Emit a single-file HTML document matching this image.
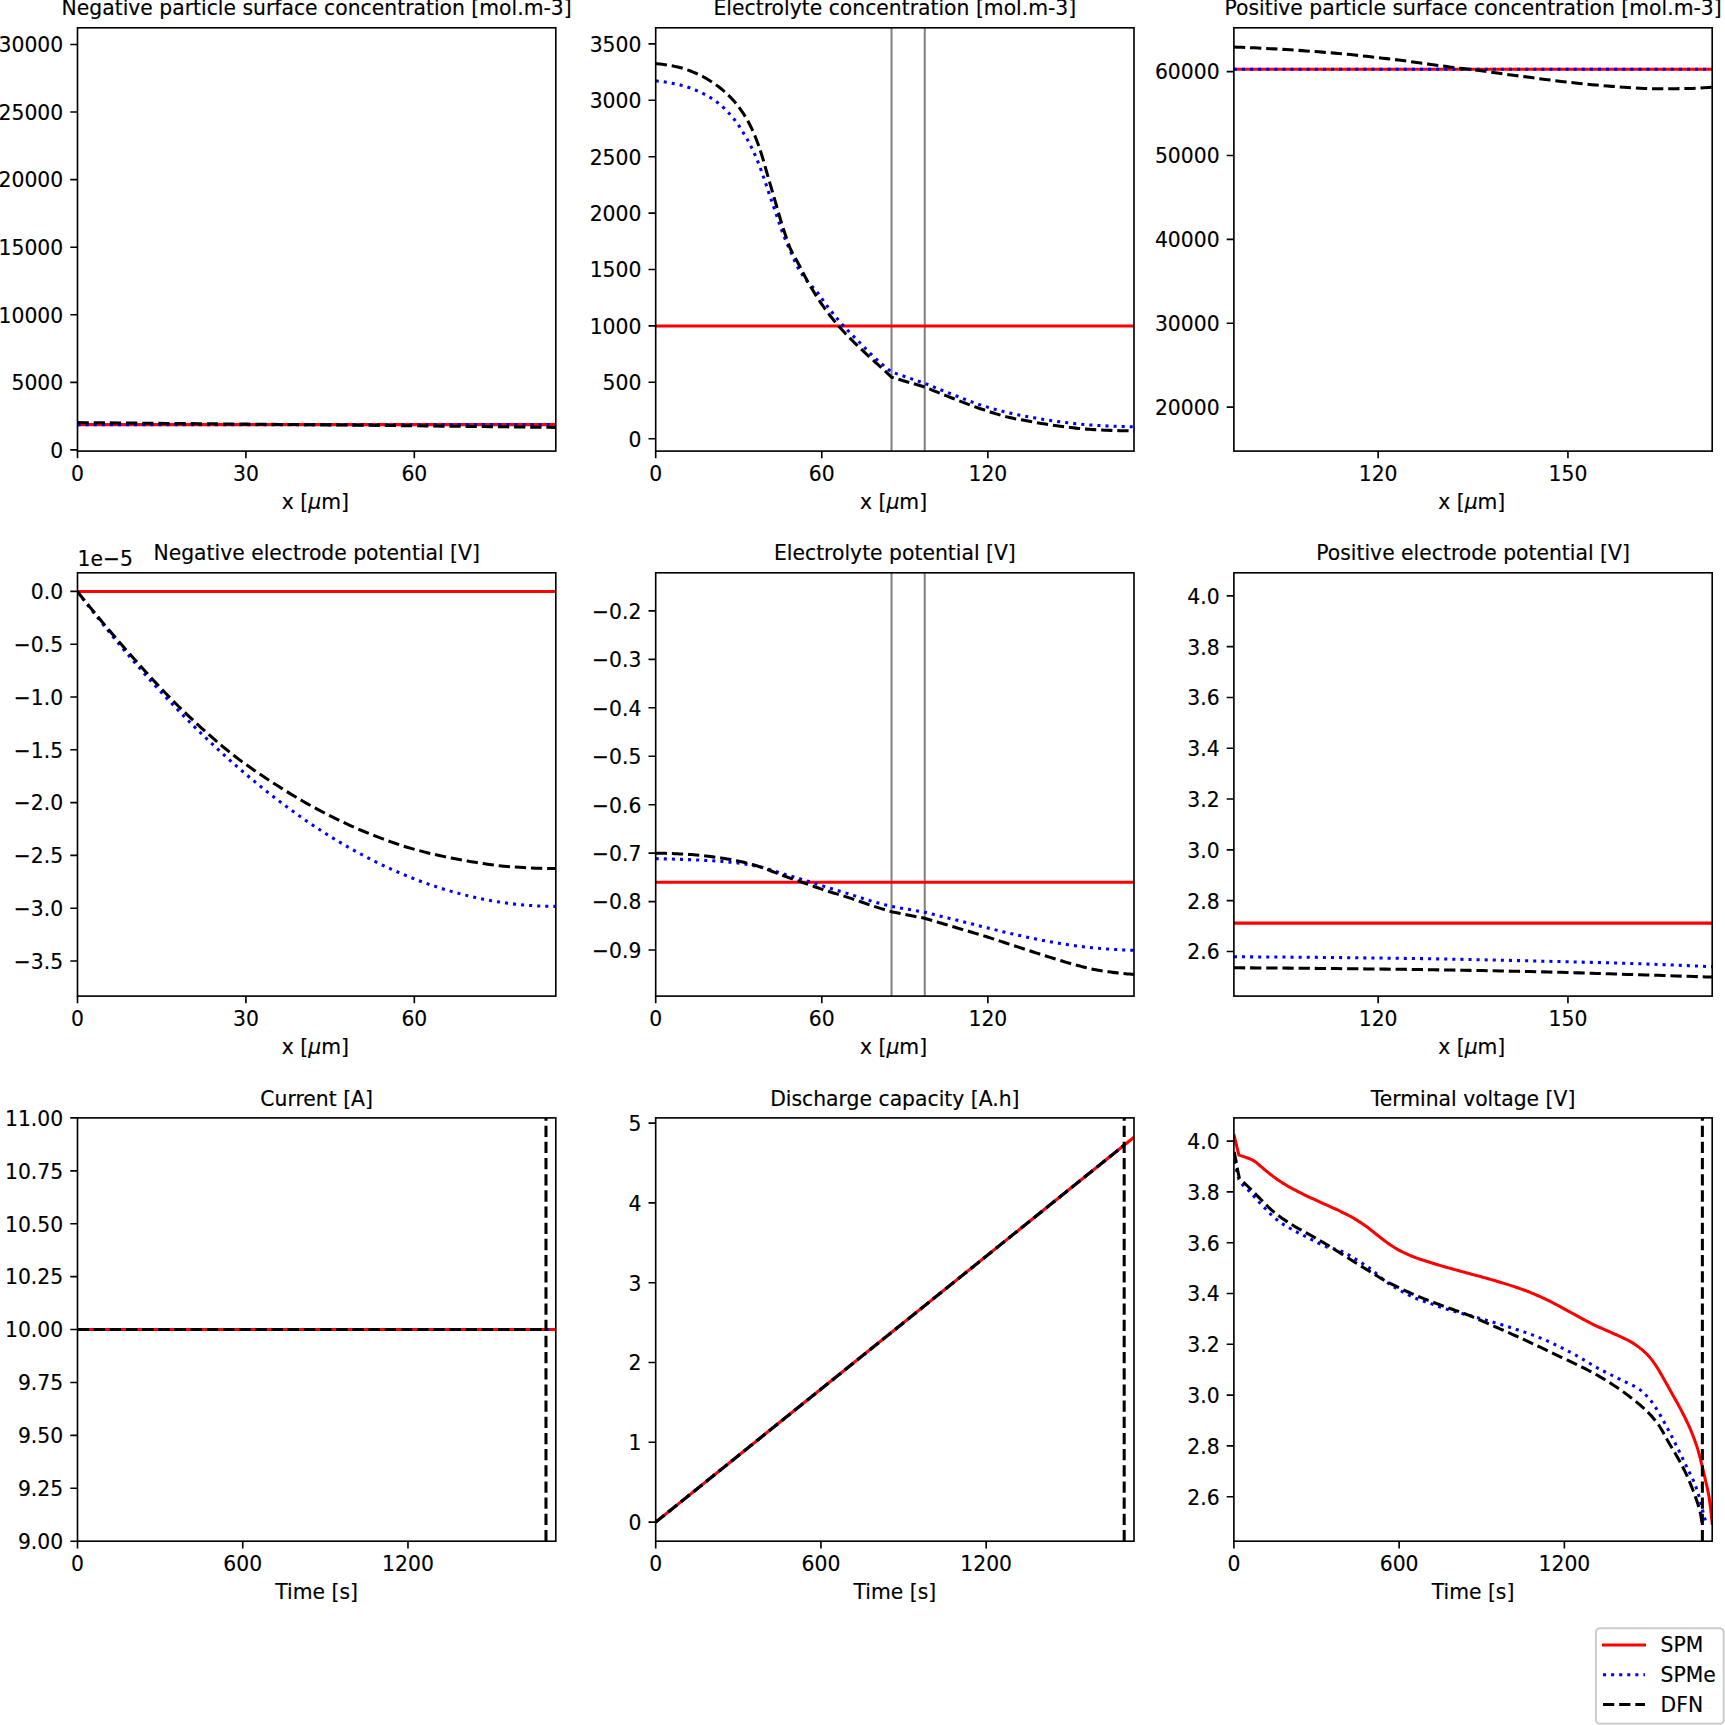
<!DOCTYPE html>
<html lang="en">
<head>
<meta charset="utf-8">
<title>Model comparison: SPM, SPMe, DFN</title>
<style>
html,body{margin:0;padding:0;background:#fff;}
body{width:1725px;height:1725px;overflow:hidden;}
svg{display:block;}
text{white-space:pre;stroke:#000;stroke-width:0.15px;}
</style>
</head>
<body>
<svg width="1725" height="1725" viewBox="0 0 1725 1725" font-family="'DejaVu Sans', 'Liberation Sans', sans-serif" fill="#000">
<rect width="1725" height="1725" fill="#fff"/>
<defs>
<clipPath id="c00"><rect x="77.5" y="27.8" width="478.3" height="423.3"/></clipPath>
<clipPath id="c01"><rect x="655.7" y="27.8" width="478.3" height="423.3"/></clipPath>
<clipPath id="c02"><rect x="1233.9" y="27.8" width="478.3" height="423.3"/></clipPath>
<clipPath id="c10"><rect x="77.5" y="572.8" width="478.3" height="423.3"/></clipPath>
<clipPath id="c11"><rect x="655.7" y="572.8" width="478.3" height="423.3"/></clipPath>
<clipPath id="c12"><rect x="1233.9" y="572.8" width="478.3" height="423.3"/></clipPath>
<clipPath id="c20"><rect x="77.5" y="1117.9" width="478.3" height="423.3"/></clipPath>
<clipPath id="c21"><rect x="655.7" y="1117.9" width="478.3" height="423.3"/></clipPath>
<clipPath id="c22"><rect x="1233.9" y="1117.9" width="478.3" height="423.3"/></clipPath>
</defs>
<g id="ax00">
<path d="M77.5 424.6 L555.8 424.6" fill="none" stroke="#ff0000" stroke-width="3.05" stroke-linejoin="round" stroke-linecap="square" clip-path="url(#c00)"/>
<path d="M77.5 424.6 L555.8 424.6" fill="none" stroke="#0000ff" stroke-width="3.05" stroke-linejoin="round" stroke-linecap="butt" stroke-dasharray="3.05 5.04" clip-path="url(#c00)"/>
<path d="M77.5 422.6 L85.61 422.67 L93.71 422.74 L101.82 422.82 L109.93 422.89 L118.03 422.96 L126.14 423.03 L134.25 423.11 L142.35 423.18 L150.46 423.25 L158.57 423.32 L166.67 423.4 L174.78 423.47 L182.89 423.54 L190.99 423.62 L199.1 423.69 L207.21 423.77 L215.32 423.84 L223.42 423.91 L231.53 423.98 L239.64 424.06 L247.74 424.13 L255.85 424.2 L263.96 424.28 L272.06 424.35 L280.17 424.42 L288.28 424.5 L296.38 424.58 L304.49 424.65 L312.6 424.73 L320.7 424.81 L328.81 424.89 L336.92 424.97 L345.02 425.05 L353.13 425.14 L361.24 425.22 L369.34 425.31 L377.45 425.4 L385.56 425.48 L393.66 425.57 L401.77 425.66 L409.88 425.75 L417.98 425.84 L426.09 425.93 L434.2 426.02 L442.31 426.11 L450.41 426.2 L458.52 426.29 L466.63 426.39 L474.73 426.48 L482.84 426.57 L490.95 426.66 L499.05 426.75 L507.16 426.84 L515.27 426.93 L523.37 427.03 L531.48 427.12 L539.59 427.21 L547.69 427.31 L555.8 427.4" fill="none" stroke="#000000" stroke-width="3.05" stroke-linejoin="round" stroke-linecap="butt" stroke-dasharray="11.29 4.88" clip-path="url(#c00)"/>
<path d="M77.5 451.1v7.2M245.92 451.1v7.2M414.33 451.1v7.2M77.5 449.9h-7.2M77.5 382.33h-7.2M77.5 314.76h-7.2M77.5 247.19h-7.2M77.5 179.62h-7.2M77.5 112.05h-7.2M77.5 44.48h-7.2" stroke="#000" stroke-width="1.63" fill="none"/>
<rect x="77.5" y="27.8" width="478.3" height="423.3" fill="none" stroke="#000" stroke-width="1.63" stroke-linejoin="miter"/>
<text transform="translate(77.5,480.7) scale(1.0175,1.045)" text-anchor="middle" font-size="20">0</text>
<text transform="translate(245.92,480.7) scale(1.0175,1.045)" text-anchor="middle" font-size="20">30</text>
<text transform="translate(414.33,480.7) scale(1.0175,1.045)" text-anchor="middle" font-size="20">60</text>
<text transform="translate(63.2,457.75) scale(1.0175,1.045)" text-anchor="end" font-size="20">0</text>
<text transform="translate(63.2,390.18) scale(1.0175,1.045)" text-anchor="end" font-size="20">5000</text>
<text transform="translate(63.2,322.61) scale(1.0175,1.045)" text-anchor="end" font-size="20">10000</text>
<text transform="translate(63.2,255.04) scale(1.0175,1.045)" text-anchor="end" font-size="20">15000</text>
<text transform="translate(63.2,187.47) scale(1.0175,1.045)" text-anchor="end" font-size="20">20000</text>
<text transform="translate(63.2,119.9) scale(1.0175,1.045)" text-anchor="end" font-size="20">25000</text>
<text transform="translate(63.2,52.33) scale(1.0175,1.045)" text-anchor="end" font-size="20">30000</text>
<text transform="translate(315.35,508.9) scale(1.0175,1.045)" text-anchor="middle" font-size="20">x [<tspan font-style="italic">μ</tspan>m]</text>
<text transform="translate(316.65,15.4) scale(1.0175,1.045)" text-anchor="middle" font-size="20">Negative particle surface concentration [mol.m-3]</text>
</g>
<g id="ax01">
<path d="M891.53 27.8 L891.53 451.1" fill="none" stroke="#808080" stroke-width="2" stroke-linejoin="round" stroke-linecap="butt"/>
<path d="M924.74 27.8 L924.74 451.1" fill="none" stroke="#808080" stroke-width="2" stroke-linejoin="round" stroke-linecap="butt"/>
<path d="M655.7 325.9 L1134 325.9" fill="none" stroke="#ff0000" stroke-width="3.05" stroke-linejoin="round" stroke-linecap="square" clip-path="url(#c01)"/>
<path d="M655.7 81 L657.28 81.1 L658.87 81.22 L660.45 81.38 L662.03 81.56 L663.61 81.76 L665.2 81.99 L666.78 82.24 L668.36 82.51 L669.94 82.8 L671.53 83.11 L673.11 83.43 L674.69 83.76 L676.28 84.1 L677.86 84.45 L679.44 84.81 L681.02 85.18 L682.61 85.57 L684.19 86.01 L685.77 86.48 L687.35 87 L688.94 87.54 L690.52 88.12 L692.1 88.73 L693.69 89.37 L695.27 90.03 L696.85 90.71 L698.43 91.42 L700.02 92.15 L701.6 92.89 L703.18 93.64 L704.76 94.43 L706.35 95.26 L707.93 96.14 L709.51 97.07 L711.1 98.05 L712.68 99.08 L714.26 100.16 L715.84 101.28 L717.43 102.46 L719.01 103.68 L720.59 104.98 L722.18 106.37 L723.76 107.83 L725.34 109.37 L726.92 110.99 L728.51 112.67 L730.09 114.43 L731.67 116.25 L733.25 118.12 L734.84 120.1 L736.42 122.2 L738 124.43 L739.59 126.77 L741.17 129.21 L742.75 131.74 L744.33 134.34 L745.92 137.01 L747.5 139.79 L749.08 142.69 L750.66 145.74 L752.25 148.92 L753.83 152.25 L755.41 155.75 L757 159.51 L758.58 163.49 L760.16 167.63 L761.74 171.93 L763.33 176.46 L764.91 181.13 L766.49 185.85 L768.07 190.53 L769.66 195.15 L771.24 199.78 L772.82 204.42 L774.41 209.03 L775.99 213.63 L777.57 218.29 L779.15 222.98 L780.74 227.58 L782.32 231.98 L783.9 236.08 L785.48 239.94 L787.07 243.62 L788.65 247.21 L790.23 250.75 L791.82 254.35 L793.4 258.01 L794.98 261.61 L796.56 265 L798.15 268.03 L799.73 270.71 L801.31 273.19 L802.89 275.52 L804.48 277.7 L806.06 279.76 L807.64 281.73 L809.23 283.55 L810.81 285.19 L812.39 286.78 L813.97 288.42 L815.56 290.22 L817.14 292.18 L818.72 294.25 L820.31 296.41 L821.89 298.62 L823.47 300.86 L825.05 303.1 L826.64 305.32 L828.22 307.48 L829.8 309.56 L831.38 311.56 L832.97 313.53 L834.55 315.46 L836.13 317.37 L837.72 319.25 L839.3 321.09 L840.88 322.9 L842.46 324.68 L844.05 326.43 L845.63 328.14 L847.21 329.82 L848.79 331.48 L850.38 333.12 L851.96 334.74 L853.54 336.36 L855.13 337.96 L856.71 339.57 L858.29 341.18 L859.87 342.8 L861.46 344.42 L863.04 346.05 L864.62 347.68 L866.2 349.3 L867.79 350.91 L869.37 352.5 L870.95 354.07 L872.54 355.61 L874.12 357.12 L875.7 358.58 L877.28 360.02 L878.87 361.44 L880.45 362.84 L882.03 364.22 L883.61 365.57 L885.2 366.91 L886.78 368.21 L888.36 369.5 L889.95 370.76 L891.53 372 L891.53 372 L924.74 383.3 L927.39 384.39 L930.04 385.48 L932.69 386.56 L935.34 387.63 L937.99 388.7 L940.64 389.76 L943.29 390.81 L945.93 391.86 L948.58 392.9 L951.23 393.93 L953.88 394.97 L956.53 396.01 L959.18 397.06 L961.83 398.11 L964.48 399.14 L967.12 400.17 L969.77 401.18 L972.42 402.16 L975.07 403.11 L977.72 404.02 L980.37 404.9 L983.02 405.74 L985.67 406.56 L988.32 407.36 L990.96 408.14 L993.61 408.91 L996.26 409.65 L998.91 410.37 L1001.56 411.07 L1004.21 411.74 L1006.86 412.39 L1009.51 413.02 L1012.15 413.61 L1014.8 414.18 L1017.45 414.73 L1020.1 415.26 L1022.75 415.76 L1025.4 416.26 L1028.05 416.73 L1030.7 417.2 L1033.35 417.65 L1035.99 418.1 L1038.64 418.55 L1041.29 418.99 L1043.94 419.43 L1046.59 419.86 L1049.24 420.28 L1051.89 420.69 L1054.54 421.09 L1057.18 421.47 L1059.83 421.83 L1062.48 422.17 L1065.13 422.49 L1067.78 422.79 L1070.43 423.08 L1073.08 423.37 L1075.73 423.65 L1078.37 423.92 L1081.02 424.18 L1083.67 424.43 L1086.32 424.66 L1088.97 424.88 L1091.62 425.08 L1094.27 425.26 L1096.92 425.42 L1099.57 425.57 L1102.21 425.7 L1104.86 425.84 L1107.51 425.97 L1110.16 426.09 L1112.81 426.21 L1115.46 426.32 L1118.11 426.42 L1120.76 426.51 L1123.4 426.6 L1126.05 426.67 L1128.7 426.73 L1131.35 426.77 L1134 426.8" fill="none" stroke="#0000ff" stroke-width="3.05" stroke-linejoin="round" stroke-linecap="butt" stroke-dasharray="3.05 5.04" clip-path="url(#c01)"/>
<path d="M655.7 63.7 L657.28 63.78 L658.87 63.9 L660.45 64.05 L662.03 64.22 L663.61 64.43 L665.2 64.65 L666.78 64.9 L668.36 65.16 L669.94 65.44 L671.53 65.74 L673.11 66.05 L674.69 66.37 L676.28 66.7 L677.86 67.03 L679.44 67.4 L681.02 67.81 L682.61 68.26 L684.19 68.74 L685.77 69.27 L687.35 69.83 L688.94 70.42 L690.52 71.03 L692.1 71.67 L693.69 72.34 L695.27 73.02 L696.85 73.73 L698.43 74.44 L700.02 75.17 L701.6 75.92 L703.18 76.73 L704.76 77.59 L706.35 78.49 L707.93 79.44 L709.51 80.43 L711.1 81.46 L712.68 82.51 L714.26 83.6 L715.84 84.72 L717.43 85.87 L719.01 87.07 L720.59 88.31 L722.18 89.61 L723.76 90.95 L725.34 92.35 L726.92 93.81 L728.51 95.32 L730.09 96.88 L731.67 98.52 L733.25 100.25 L734.84 102.07 L736.42 103.98 L738 105.98 L739.59 108.08 L741.17 110.28 L742.75 112.57 L744.33 115 L745.92 117.58 L747.5 120.34 L749.08 123.27 L750.66 126.38 L752.25 129.7 L753.83 133.29 L755.41 137.16 L757 141.27 L758.58 145.6 L760.16 150.12 L761.74 154.91 L763.33 160.18 L764.91 165.73 L766.49 171.38 L768.07 176.91 L769.66 182.34 L771.24 187.78 L772.82 193.21 L774.41 198.63 L775.99 204.02 L777.57 209.49 L779.15 214.97 L780.74 220.36 L782.32 225.54 L783.9 230.46 L785.48 235.3 L787.07 239.99 L788.65 244.38 L790.23 248.34 L791.82 251.73 L793.4 254.69 L794.98 257.44 L796.56 260.21 L798.15 263.19 L799.73 266.26 L801.31 269.37 L802.89 272.48 L804.48 275.55 L806.06 278.54 L807.64 281.4 L809.23 284.16 L810.81 286.87 L812.39 289.53 L813.97 292.15 L815.56 294.71 L817.14 297.22 L818.72 299.67 L820.31 302.06 L821.89 304.39 L823.47 306.65 L825.05 308.86 L826.64 311.02 L828.22 313.14 L829.8 315.21 L831.38 317.24 L832.97 319.23 L834.55 321.18 L836.13 323.09 L837.72 324.96 L839.3 326.8 L840.88 328.59 L842.46 330.34 L844.05 332.05 L845.63 333.72 L847.21 335.37 L848.79 336.98 L850.38 338.58 L851.96 340.17 L853.54 341.75 L855.13 343.32 L856.71 344.87 L858.29 346.4 L859.87 347.91 L861.46 349.41 L863.04 350.9 L864.62 352.38 L866.2 353.85 L867.79 355.31 L869.37 356.78 L870.95 358.24 L872.54 359.68 L874.12 361.11 L875.7 362.53 L877.28 363.94 L878.87 365.36 L880.45 366.79 L882.03 368.23 L883.61 369.68 L885.2 371.15 L886.78 372.64 L888.36 374.15 L889.95 375.67 L891.53 377.2 L891.53 377.2 L924.74 387 L927.39 388.11 L930.04 389.21 L932.69 390.3 L935.34 391.38 L937.99 392.46 L940.64 393.53 L943.29 394.59 L945.93 395.65 L948.58 396.69 L951.23 397.73 L953.88 398.77 L956.53 399.81 L959.18 400.84 L961.83 401.88 L964.48 402.9 L967.12 403.92 L969.77 404.91 L972.42 405.89 L975.07 406.85 L977.72 407.79 L980.37 408.69 L983.02 409.57 L985.67 410.45 L988.32 411.32 L990.96 412.18 L993.61 413.03 L996.26 413.86 L998.91 414.66 L1001.56 415.43 L1004.21 416.16 L1006.86 416.86 L1009.51 417.51 L1012.15 418.11 L1014.8 418.66 L1017.45 419.17 L1020.1 419.65 L1022.75 420.11 L1025.4 420.58 L1028.05 421.05 L1030.7 421.52 L1033.35 421.99 L1035.99 422.46 L1038.64 422.93 L1041.29 423.39 L1043.94 423.84 L1046.59 424.28 L1049.24 424.7 L1051.89 425.1 L1054.54 425.49 L1057.18 425.85 L1059.83 426.2 L1062.48 426.54 L1065.13 426.87 L1067.78 427.2 L1070.43 427.52 L1073.08 427.83 L1075.73 428.13 L1078.37 428.41 L1081.02 428.67 L1083.67 428.91 L1086.32 429.12 L1088.97 429.31 L1091.62 429.47 L1094.27 429.62 L1096.92 429.77 L1099.57 429.9 L1102.21 430.03 L1104.86 430.15 L1107.51 430.26 L1110.16 430.36 L1112.81 430.45 L1115.46 430.54 L1118.11 430.61 L1120.76 430.68 L1123.4 430.74 L1126.05 430.79 L1128.7 430.83 L1131.35 430.87 L1134 430.9" fill="none" stroke="#000000" stroke-width="3.05" stroke-linejoin="round" stroke-linecap="butt" stroke-dasharray="11.29 4.88" clip-path="url(#c01)"/>
<path d="M655.7 451.1v7.2M821.78 451.1v7.2M987.85 451.1v7.2M655.7 438.7h-7.2M655.7 382.3h-7.2M655.7 325.9h-7.2M655.7 269.5h-7.2M655.7 213.1h-7.2M655.7 156.7h-7.2M655.7 100.3h-7.2M655.7 43.9h-7.2" stroke="#000" stroke-width="1.63" fill="none"/>
<rect x="655.7" y="27.8" width="478.3" height="423.3" fill="none" stroke="#000" stroke-width="1.63" stroke-linejoin="miter"/>
<text transform="translate(655.7,480.7) scale(1.0175,1.045)" text-anchor="middle" font-size="20">0</text>
<text transform="translate(821.78,480.7) scale(1.0175,1.045)" text-anchor="middle" font-size="20">60</text>
<text transform="translate(987.85,480.7) scale(1.0175,1.045)" text-anchor="middle" font-size="20">120</text>
<text transform="translate(641.4,446.55) scale(1.0175,1.045)" text-anchor="end" font-size="20">0</text>
<text transform="translate(641.4,390.15) scale(1.0175,1.045)" text-anchor="end" font-size="20">500</text>
<text transform="translate(641.4,333.75) scale(1.0175,1.045)" text-anchor="end" font-size="20">1000</text>
<text transform="translate(641.4,277.35) scale(1.0175,1.045)" text-anchor="end" font-size="20">1500</text>
<text transform="translate(641.4,220.95) scale(1.0175,1.045)" text-anchor="end" font-size="20">2000</text>
<text transform="translate(641.4,164.55) scale(1.0175,1.045)" text-anchor="end" font-size="20">2500</text>
<text transform="translate(641.4,108.15) scale(1.0175,1.045)" text-anchor="end" font-size="20">3000</text>
<text transform="translate(641.4,51.75) scale(1.0175,1.045)" text-anchor="end" font-size="20">3500</text>
<text transform="translate(893.55,508.9) scale(1.0175,1.045)" text-anchor="middle" font-size="20">x [<tspan font-style="italic">μ</tspan>m]</text>
<text transform="translate(894.85,15.4) scale(1.0175,1.045)" text-anchor="middle" font-size="20">Electrolyte concentration [mol.m-3]</text>
</g>
<g id="ax02">
<path d="M1233.9 69.3 L1712.2 69.3" fill="none" stroke="#ff0000" stroke-width="3.05" stroke-linejoin="round" stroke-linecap="square" clip-path="url(#c02)"/>
<path d="M1233.9 69.3 L1712.2 69.3" fill="none" stroke="#0000ff" stroke-width="3.05" stroke-linejoin="round" stroke-linecap="butt" stroke-dasharray="3.05 5.04" clip-path="url(#c02)"/>
<path d="M1233.9 47 L1237.92 47.15 L1241.94 47.32 L1245.96 47.49 L1249.98 47.67 L1254 47.85 L1258.02 48.05 L1262.04 48.25 L1266.05 48.46 L1270.07 48.67 L1274.09 48.89 L1278.11 49.12 L1282.13 49.35 L1286.15 49.59 L1290.17 49.84 L1294.19 50.09 L1298.21 50.36 L1302.23 50.63 L1306.25 50.92 L1310.27 51.21 L1314.29 51.51 L1318.31 51.82 L1322.33 52.13 L1326.34 52.46 L1330.36 52.79 L1334.38 53.13 L1338.4 53.48 L1342.42 53.84 L1346.44 54.21 L1350.46 54.6 L1354.48 55 L1358.5 55.42 L1362.52 55.85 L1366.54 56.29 L1370.56 56.74 L1374.58 57.2 L1378.6 57.67 L1382.62 58.14 L1386.63 58.62 L1390.65 59.1 L1394.67 59.59 L1398.69 60.07 L1402.71 60.57 L1406.73 61.09 L1410.75 61.62 L1414.77 62.16 L1418.79 62.71 L1422.81 63.27 L1426.83 63.83 L1430.85 64.4 L1434.87 64.96 L1438.89 65.52 L1442.91 66.07 L1446.92 66.61 L1450.94 67.14 L1454.96 67.66 L1458.98 68.15 L1463 68.62 L1467.02 69.08 L1471.04 69.56 L1475.06 70.06 L1479.08 70.58 L1483.1 71.11 L1487.12 71.65 L1491.14 72.19 L1495.16 72.74 L1499.18 73.29 L1503.19 73.84 L1507.21 74.38 L1511.23 74.92 L1515.25 75.45 L1519.27 75.97 L1523.29 76.5 L1527.31 77.04 L1531.33 77.57 L1535.35 78.11 L1539.37 78.64 L1543.39 79.17 L1547.41 79.69 L1551.43 80.2 L1555.45 80.7 L1559.47 81.19 L1563.48 81.66 L1567.5 82.12 L1571.52 82.56 L1575.54 82.99 L1579.56 83.41 L1583.58 83.83 L1587.6 84.24 L1591.62 84.65 L1595.64 85.03 L1599.66 85.4 L1603.68 85.76 L1607.7 86.09 L1611.72 86.39 L1615.74 86.66 L1619.76 86.92 L1623.77 87.19 L1627.79 87.46 L1631.81 87.72 L1635.83 87.97 L1639.85 88.19 L1643.87 88.4 L1647.89 88.56 L1651.91 88.69 L1655.93 88.77 L1659.95 88.8 L1663.97 88.79 L1667.99 88.77 L1672.01 88.74 L1676.03 88.69 L1680.05 88.64 L1684.06 88.58 L1688.08 88.51 L1692.1 88.42 L1696.12 88.27 L1700.14 88.07 L1704.16 87.84 L1708.18 87.58 L1712.2 87.3" fill="none" stroke="#000000" stroke-width="3.05" stroke-linejoin="round" stroke-linecap="butt" stroke-dasharray="11.29 4.88" clip-path="url(#c02)"/>
<path d="M1378.15 451.1v7.2M1567.95 451.1v7.2M1233.9 407.1h-7.2M1233.9 323.23h-7.2M1233.9 239.36h-7.2M1233.9 155.49h-7.2M1233.9 71.62h-7.2" stroke="#000" stroke-width="1.63" fill="none"/>
<rect x="1233.9" y="27.8" width="478.3" height="423.3" fill="none" stroke="#000" stroke-width="1.63" stroke-linejoin="miter"/>
<text transform="translate(1378.15,480.7) scale(1.0175,1.045)" text-anchor="middle" font-size="20">120</text>
<text transform="translate(1567.95,480.7) scale(1.0175,1.045)" text-anchor="middle" font-size="20">150</text>
<text transform="translate(1219.6,414.95) scale(1.0175,1.045)" text-anchor="end" font-size="20">20000</text>
<text transform="translate(1219.6,331.08) scale(1.0175,1.045)" text-anchor="end" font-size="20">30000</text>
<text transform="translate(1219.6,247.21) scale(1.0175,1.045)" text-anchor="end" font-size="20">40000</text>
<text transform="translate(1219.6,163.34) scale(1.0175,1.045)" text-anchor="end" font-size="20">50000</text>
<text transform="translate(1219.6,79.47) scale(1.0175,1.045)" text-anchor="end" font-size="20">60000</text>
<text transform="translate(1471.75,508.9) scale(1.0175,1.045)" text-anchor="middle" font-size="20">x [<tspan font-style="italic">μ</tspan>m]</text>
<text transform="translate(1473.05,15.4) scale(1.0175,1.045)" text-anchor="middle" font-size="20">Positive particle surface concentration [mol.m-3]</text>
</g>
<g id="ax10">
<path d="M77.5 591.4 L555.8 591.4" fill="none" stroke="#ff0000" stroke-width="3.05" stroke-linejoin="round" stroke-linecap="square" clip-path="url(#c10)"/>
<path d="M77.5 591.7 L81.52 596.97 L85.54 602.19 L89.56 607.37 L93.58 612.5 L97.6 617.59 L101.62 622.63 L105.64 627.63 L109.65 632.59 L113.67 637.5 L117.69 642.37 L121.71 647.19 L125.73 651.97 L129.75 656.7 L133.77 661.39 L137.79 666.04 L141.81 670.64 L145.83 675.19 L149.85 679.7 L153.87 684.17 L157.89 688.59 L161.91 692.97 L165.93 697.3 L169.94 701.59 L173.96 705.84 L177.98 710.04 L182 714.19 L186.02 718.3 L190.04 722.37 L194.06 726.39 L198.08 730.37 L202.1 734.31 L206.12 738.19 L210.14 742.04 L214.16 745.84 L218.18 749.59 L222.2 753.31 L226.22 756.97 L230.23 760.59 L234.25 764.17 L238.27 767.71 L242.29 771.2 L246.31 774.64 L250.33 778.04 L254.35 781.4 L258.37 784.71 L262.39 787.97 L266.41 791.2 L270.43 794.37 L274.45 797.51 L278.47 800.6 L282.49 803.64 L286.51 806.64 L290.52 809.6 L294.54 812.51 L298.56 815.37 L302.58 818.2 L306.6 820.97 L310.62 823.71 L314.64 826.4 L318.66 829.04 L322.68 831.64 L326.7 834.2 L330.72 836.71 L334.74 839.18 L338.76 841.6 L342.78 843.98 L346.79 846.31 L350.81 848.6 L354.83 850.84 L358.85 853.04 L362.87 855.2 L366.89 857.31 L370.91 859.38 L374.93 861.4 L378.95 863.38 L382.97 865.31 L386.99 867.2 L391.01 869.04 L395.03 870.84 L399.05 872.6 L403.07 874.31 L407.08 875.98 L411.1 877.6 L415.12 879.18 L419.14 880.71 L423.16 882.2 L427.18 883.64 L431.2 885.04 L435.22 886.4 L439.24 887.71 L443.26 888.98 L447.28 890.2 L451.3 891.38 L455.32 892.51 L459.34 893.6 L463.36 894.64 L467.37 895.64 L471.39 896.6 L475.41 897.51 L479.43 898.38 L483.45 899.2 L487.47 899.98 L491.49 900.71 L495.51 901.4 L499.53 902.04 L503.55 902.64 L507.57 903.2 L511.59 903.71 L515.61 904.18 L519.63 904.6 L523.65 904.98 L527.66 905.31 L531.68 905.6 L535.7 905.84 L539.72 906.04 L543.74 906.2 L547.76 906.31 L551.78 906.38 L555.8 906.4" fill="none" stroke="#0000ff" stroke-width="3.05" stroke-linejoin="round" stroke-linecap="butt" stroke-dasharray="3.05 5.04" clip-path="url(#c10)"/>
<path d="M77.5 591.7 L81.52 596.72 L85.54 601.71 L89.56 606.66 L93.58 611.57 L97.6 616.44 L101.62 621.27 L105.64 626.07 L109.65 630.82 L113.67 635.53 L117.69 640.21 L121.71 644.84 L125.73 649.42 L129.75 653.97 L133.77 658.49 L137.79 662.99 L141.81 667.47 L145.83 671.92 L149.85 676.34 L153.87 680.71 L157.89 685.04 L161.91 689.32 L165.93 693.53 L169.94 697.69 L173.96 701.77 L177.98 705.77 L182 709.69 L186.02 713.55 L190.04 717.37 L194.06 721.14 L198.08 724.87 L202.1 728.54 L206.12 732.16 L210.14 735.72 L214.16 739.22 L218.18 742.67 L222.2 746.05 L226.22 749.36 L230.23 752.6 L234.25 755.78 L238.27 758.86 L242.29 761.85 L246.31 764.77 L250.33 767.6 L254.35 770.38 L258.37 773.11 L262.39 775.79 L266.41 778.46 L270.43 781.1 L274.45 783.72 L278.47 786.3 L282.49 788.86 L286.51 791.38 L290.52 793.85 L294.54 796.29 L298.56 798.68 L302.58 801.02 L306.6 803.31 L310.62 805.54 L314.64 807.72 L318.66 809.87 L322.68 811.99 L326.7 814.08 L330.72 816.13 L334.74 818.15 L338.76 820.13 L342.78 822.07 L346.79 823.96 L350.81 825.8 L354.83 827.59 L358.85 829.33 L362.87 831.02 L366.89 832.65 L370.91 834.26 L374.93 835.85 L378.95 837.41 L382.97 838.93 L386.99 840.42 L391.01 841.87 L395.03 843.28 L399.05 844.64 L403.07 845.95 L407.08 847.2 L411.1 848.4 L415.12 849.53 L419.14 850.6 L423.16 851.64 L427.18 852.65 L431.2 853.63 L435.22 854.58 L439.24 855.5 L443.26 856.38 L447.28 857.23 L451.3 858.05 L455.32 858.84 L459.34 859.59 L463.36 860.3 L467.37 860.98 L471.39 861.64 L475.41 862.29 L479.43 862.94 L483.45 863.57 L487.47 864.17 L491.49 864.75 L495.51 865.29 L499.53 865.77 L503.55 866.2 L507.57 866.57 L511.59 866.86 L515.61 867.1 L519.63 867.34 L523.65 867.56 L527.66 867.78 L531.68 867.97 L535.7 868.15 L539.72 868.3 L543.74 868.43 L547.76 868.52 L551.78 868.58 L555.8 868.6" fill="none" stroke="#000000" stroke-width="3.05" stroke-linejoin="round" stroke-linecap="butt" stroke-dasharray="11.29 4.88" clip-path="url(#c10)"/>
<path d="M77.5 996.1v7.2M245.92 996.1v7.2M414.33 996.1v7.2M77.5 591.4h-7.2M77.5 644.2h-7.2M77.5 697h-7.2M77.5 749.8h-7.2M77.5 802.6h-7.2M77.5 855.4h-7.2M77.5 908.2h-7.2M77.5 961h-7.2" stroke="#000" stroke-width="1.63" fill="none"/>
<rect x="77.5" y="572.8" width="478.3" height="423.3" fill="none" stroke="#000" stroke-width="1.63" stroke-linejoin="miter"/>
<text transform="translate(77.5,1025.7) scale(1.0175,1.045)" text-anchor="middle" font-size="20">0</text>
<text transform="translate(245.92,1025.7) scale(1.0175,1.045)" text-anchor="middle" font-size="20">30</text>
<text transform="translate(414.33,1025.7) scale(1.0175,1.045)" text-anchor="middle" font-size="20">60</text>
<text transform="translate(63.2,599.25) scale(1.0175,1.045)" text-anchor="end" font-size="20">0.0</text>
<text transform="translate(63.2,652.05) scale(1.0175,1.045)" text-anchor="end" font-size="20">−0.5</text>
<text transform="translate(63.2,704.85) scale(1.0175,1.045)" text-anchor="end" font-size="20">−1.0</text>
<text transform="translate(63.2,757.65) scale(1.0175,1.045)" text-anchor="end" font-size="20">−1.5</text>
<text transform="translate(63.2,810.45) scale(1.0175,1.045)" text-anchor="end" font-size="20">−2.0</text>
<text transform="translate(63.2,863.25) scale(1.0175,1.045)" text-anchor="end" font-size="20">−2.5</text>
<text transform="translate(63.2,916.05) scale(1.0175,1.045)" text-anchor="end" font-size="20">−3.0</text>
<text transform="translate(63.2,968.85) scale(1.0175,1.045)" text-anchor="end" font-size="20">−3.5</text>
<text transform="translate(315.35,1053.9) scale(1.0175,1.045)" text-anchor="middle" font-size="20">x [<tspan font-style="italic">μ</tspan>m]</text>
<text transform="translate(316.65,560.4) scale(1.0175,1.045)" text-anchor="middle" font-size="20">Negative electrode potential [V]</text>
<text transform="translate(77.5,566.2) scale(1.0175,1.045)" text-anchor="start" font-size="20">1e−5</text>
</g>
<g id="ax11">
<path d="M891.53 572.8 L891.53 996.1" fill="none" stroke="#808080" stroke-width="2" stroke-linejoin="round" stroke-linecap="butt"/>
<path d="M924.74 572.8 L924.74 996.1" fill="none" stroke="#808080" stroke-width="2" stroke-linejoin="round" stroke-linecap="butt"/>
<path d="M655.7 882.2 L1134 882.2" fill="none" stroke="#ff0000" stroke-width="3.05" stroke-linejoin="round" stroke-linecap="square" clip-path="url(#c11)"/>
<path d="M655.7 858.7 L658.08 858.74 L660.46 858.79 L662.85 858.84 L665.23 858.89 L667.61 858.95 L669.99 859.02 L672.37 859.08 L674.76 859.16 L677.14 859.23 L679.52 859.31 L681.9 859.39 L684.29 859.47 L686.67 859.55 L689.05 859.64 L691.43 859.74 L693.81 859.84 L696.2 859.94 L698.58 860.05 L700.96 860.17 L703.34 860.29 L705.72 860.42 L708.11 860.56 L710.49 860.7 L712.87 860.84 L715.25 860.99 L717.63 861.15 L720.02 861.32 L722.4 861.5 L724.78 861.69 L727.16 861.89 L729.55 862.11 L731.93 862.34 L734.31 862.59 L736.69 862.85 L739.07 863.13 L741.46 863.44 L743.84 863.79 L746.22 864.17 L748.6 864.58 L750.98 865.01 L753.37 865.47 L755.75 865.96 L758.13 866.46 L760.51 866.98 L762.89 867.55 L765.28 868.18 L767.66 868.86 L770.04 869.59 L772.42 870.35 L774.81 871.12 L777.19 871.9 L779.57 872.67 L781.95 873.42 L784.33 874.14 L786.72 874.85 L789.1 875.57 L791.48 876.28 L793.86 876.99 L796.24 877.7 L798.63 878.42 L801.01 879.14 L803.39 879.86 L805.77 880.59 L808.15 881.33 L810.54 882.07 L812.92 882.82 L815.3 883.57 L817.68 884.33 L820.07 885.08 L822.45 885.84 L824.83 886.59 L827.21 887.33 L829.59 888.07 L831.98 888.8 L834.36 889.53 L836.74 890.25 L839.12 890.97 L841.5 891.7 L843.89 892.42 L846.27 893.15 L848.65 893.88 L851.03 894.61 L853.41 895.36 L855.8 896.12 L858.18 896.89 L860.56 897.66 L862.94 898.43 L865.33 899.19 L867.71 899.94 L870.09 900.67 L872.47 901.38 L874.85 902.06 L877.24 902.72 L879.62 903.37 L882 904 L884.38 904.62 L886.76 905.23 L889.15 905.82 L891.53 906.4 L924.74 912.3 L926.86 912.81 L928.97 913.32 L931.08 913.83 L933.2 914.34 L935.31 914.86 L937.43 915.37 L939.54 915.89 L941.65 916.41 L943.77 916.93 L945.88 917.45 L947.99 917.97 L950.11 918.49 L952.22 919.01 L954.34 919.54 L956.45 920.06 L958.56 920.59 L960.68 921.12 L962.79 921.66 L964.9 922.2 L967.02 922.73 L969.13 923.27 L971.25 923.81 L973.36 924.35 L975.47 924.89 L977.59 925.43 L979.7 925.96 L981.81 926.49 L983.93 927.01 L986.04 927.53 L988.15 928.05 L990.27 928.57 L992.38 929.09 L994.5 929.61 L996.61 930.13 L998.72 930.64 L1000.84 931.16 L1002.95 931.66 L1005.06 932.17 L1007.18 932.67 L1009.29 933.16 L1011.41 933.65 L1013.52 934.13 L1015.63 934.61 L1017.75 935.08 L1019.86 935.55 L1021.97 936.01 L1024.09 936.48 L1026.2 936.94 L1028.32 937.39 L1030.43 937.84 L1032.54 938.29 L1034.66 938.73 L1036.77 939.16 L1038.88 939.58 L1041 939.99 L1043.11 940.4 L1045.22 940.79 L1047.34 941.18 L1049.45 941.57 L1051.57 941.95 L1053.68 942.33 L1055.79 942.7 L1057.91 943.07 L1060.02 943.43 L1062.13 943.78 L1064.25 944.12 L1066.36 944.45 L1068.48 944.77 L1070.59 945.08 L1072.7 945.38 L1074.82 945.66 L1076.93 945.93 L1079.04 946.19 L1081.16 946.45 L1083.27 946.7 L1085.38 946.95 L1087.5 947.19 L1089.61 947.42 L1091.73 947.65 L1093.84 947.86 L1095.95 948.07 L1098.07 948.27 L1100.18 948.45 L1102.29 948.62 L1104.41 948.78 L1106.52 948.93 L1108.64 949.07 L1110.75 949.2 L1112.86 949.34 L1114.98 949.46 L1117.09 949.59 L1119.2 949.7 L1121.32 949.81 L1123.43 949.91 L1125.55 950.01 L1127.66 950.1 L1129.77 950.17 L1131.89 950.24 L1134 950.3" fill="none" stroke="#0000ff" stroke-width="3.05" stroke-linejoin="round" stroke-linecap="butt" stroke-dasharray="3.05 5.04" clip-path="url(#c11)"/>
<path d="M655.7 853.2 L658.08 853.21 L660.46 853.24 L662.85 853.29 L665.23 853.35 L667.61 853.42 L669.99 853.5 L672.37 853.6 L674.76 853.7 L677.14 853.8 L679.52 853.92 L681.9 854.03 L684.29 854.15 L686.67 854.28 L689.05 854.43 L691.43 854.6 L693.81 854.79 L696.2 855.01 L698.58 855.24 L700.96 855.48 L703.34 855.74 L705.72 856.01 L708.11 856.3 L710.49 856.59 L712.87 856.88 L715.25 857.18 L717.63 857.49 L720.02 857.83 L722.4 858.18 L724.78 858.56 L727.16 858.95 L729.55 859.37 L731.93 859.81 L734.31 860.26 L736.69 860.73 L739.07 861.22 L741.46 861.75 L743.84 862.3 L746.22 862.89 L748.6 863.5 L750.98 864.15 L753.37 864.82 L755.75 865.51 L758.13 866.23 L760.51 866.97 L762.89 867.77 L765.28 868.64 L767.66 869.56 L770.04 870.52 L772.42 871.47 L774.81 872.4 L777.19 873.3 L779.57 874.19 L781.95 875.08 L784.33 875.97 L786.72 876.85 L789.1 877.72 L791.48 878.58 L793.86 879.43 L796.24 880.27 L798.63 881.1 L801.01 881.93 L803.39 882.76 L805.77 883.59 L808.15 884.43 L810.54 885.28 L812.92 886.13 L815.3 886.97 L817.68 887.8 L820.07 888.62 L822.45 889.41 L824.83 890.19 L827.21 890.95 L829.59 891.7 L831.98 892.44 L834.36 893.18 L836.74 893.91 L839.12 894.64 L841.5 895.38 L843.89 896.12 L846.27 896.87 L848.65 897.63 L851.03 898.41 L853.41 899.21 L855.8 900.03 L858.18 900.86 L860.56 901.7 L862.94 902.55 L865.33 903.39 L867.71 904.22 L870.09 905.03 L872.47 905.83 L874.85 906.6 L877.24 907.37 L879.62 908.11 L882 908.85 L884.38 909.58 L886.76 910.3 L889.15 911 L891.53 911.7 L924.74 918.3 L926.86 918.93 L928.97 919.55 L931.08 920.18 L933.2 920.8 L935.31 921.43 L937.43 922.06 L939.54 922.68 L941.65 923.31 L943.77 923.94 L945.88 924.57 L947.99 925.2 L950.11 925.82 L952.22 926.45 L954.34 927.08 L956.45 927.71 L958.56 928.34 L960.68 928.96 L962.79 929.59 L964.9 930.21 L967.02 930.83 L969.13 931.46 L971.25 932.08 L973.36 932.71 L975.47 933.34 L977.59 933.98 L979.7 934.62 L981.81 935.26 L983.93 935.91 L986.04 936.57 L988.15 937.23 L990.27 937.91 L992.38 938.58 L994.5 939.27 L996.61 939.96 L998.72 940.65 L1000.84 941.34 L1002.95 942.04 L1005.06 942.74 L1007.18 943.44 L1009.29 944.13 L1011.41 944.83 L1013.52 945.52 L1015.63 946.21 L1017.75 946.9 L1019.86 947.59 L1021.97 948.28 L1024.09 948.98 L1026.2 949.67 L1028.32 950.37 L1030.43 951.06 L1032.54 951.76 L1034.66 952.44 L1036.77 953.13 L1038.88 953.81 L1041 954.49 L1043.11 955.16 L1045.22 955.82 L1047.34 956.48 L1049.45 957.14 L1051.57 957.8 L1053.68 958.47 L1055.79 959.13 L1057.91 959.78 L1060.02 960.43 L1062.13 961.08 L1064.25 961.71 L1066.36 962.34 L1068.48 962.96 L1070.59 963.56 L1072.7 964.14 L1074.82 964.71 L1076.93 965.27 L1079.04 965.82 L1081.16 966.38 L1083.27 966.92 L1085.38 967.46 L1087.5 967.98 L1089.61 968.49 L1091.73 968.97 L1093.84 969.42 L1095.95 969.84 L1098.07 970.23 L1100.18 970.58 L1102.29 970.92 L1104.41 971.24 L1106.52 971.54 L1108.64 971.84 L1110.75 972.11 L1112.86 972.38 L1114.98 972.63 L1117.09 972.87 L1119.2 973.1 L1121.32 973.32 L1123.43 973.53 L1125.55 973.73 L1127.66 973.91 L1129.77 974.09 L1131.89 974.25 L1134 974.4" fill="none" stroke="#000000" stroke-width="3.05" stroke-linejoin="round" stroke-linecap="butt" stroke-dasharray="11.29 4.88" clip-path="url(#c11)"/>
<path d="M655.7 996.1v7.2M821.78 996.1v7.2M987.85 996.1v7.2M655.7 610.9h-7.2M655.7 659.35h-7.2M655.7 707.8h-7.2M655.7 756.25h-7.2M655.7 804.7h-7.2M655.7 853.15h-7.2M655.7 901.6h-7.2M655.7 950.05h-7.2" stroke="#000" stroke-width="1.63" fill="none"/>
<rect x="655.7" y="572.8" width="478.3" height="423.3" fill="none" stroke="#000" stroke-width="1.63" stroke-linejoin="miter"/>
<text transform="translate(655.7,1025.7) scale(1.0175,1.045)" text-anchor="middle" font-size="20">0</text>
<text transform="translate(821.78,1025.7) scale(1.0175,1.045)" text-anchor="middle" font-size="20">60</text>
<text transform="translate(987.85,1025.7) scale(1.0175,1.045)" text-anchor="middle" font-size="20">120</text>
<text transform="translate(641.4,618.75) scale(1.0175,1.045)" text-anchor="end" font-size="20">−0.2</text>
<text transform="translate(641.4,667.2) scale(1.0175,1.045)" text-anchor="end" font-size="20">−0.3</text>
<text transform="translate(641.4,715.65) scale(1.0175,1.045)" text-anchor="end" font-size="20">−0.4</text>
<text transform="translate(641.4,764.1) scale(1.0175,1.045)" text-anchor="end" font-size="20">−0.5</text>
<text transform="translate(641.4,812.55) scale(1.0175,1.045)" text-anchor="end" font-size="20">−0.6</text>
<text transform="translate(641.4,861) scale(1.0175,1.045)" text-anchor="end" font-size="20">−0.7</text>
<text transform="translate(641.4,909.45) scale(1.0175,1.045)" text-anchor="end" font-size="20">−0.8</text>
<text transform="translate(641.4,957.9) scale(1.0175,1.045)" text-anchor="end" font-size="20">−0.9</text>
<text transform="translate(893.55,1053.9) scale(1.0175,1.045)" text-anchor="middle" font-size="20">x [<tspan font-style="italic">μ</tspan>m]</text>
<text transform="translate(894.85,560.4) scale(1.0175,1.045)" text-anchor="middle" font-size="20">Electrolyte potential [V]</text>
</g>
<g id="ax12">
<path d="M1233.9 923.1 L1712.2 923.1" fill="none" stroke="#ff0000" stroke-width="3.05" stroke-linejoin="round" stroke-linecap="square" clip-path="url(#c12)"/>
<path d="M1233.9 956.8 L1239.95 956.82 L1246.01 956.85 L1252.06 956.87 L1258.12 956.91 L1264.17 956.94 L1270.23 956.98 L1276.28 957.02 L1282.34 957.06 L1288.39 957.11 L1294.44 957.16 L1300.5 957.21 L1306.55 957.26 L1312.61 957.32 L1318.66 957.38 L1324.72 957.44 L1330.77 957.5 L1336.83 957.57 L1342.88 957.63 L1348.93 957.7 L1354.99 957.77 L1361.04 957.84 L1367.1 957.91 L1373.15 957.98 L1379.21 958.05 L1385.26 958.13 L1391.32 958.2 L1397.37 958.28 L1403.42 958.36 L1409.48 958.44 L1415.53 958.53 L1421.59 958.62 L1427.64 958.72 L1433.7 958.83 L1439.75 958.93 L1445.81 959.05 L1451.86 959.16 L1457.91 959.28 L1463.97 959.41 L1470.02 959.53 L1476.08 959.66 L1482.13 959.79 L1488.19 959.92 L1494.24 960.06 L1500.29 960.2 L1506.35 960.33 L1512.4 960.47 L1518.46 960.61 L1524.51 960.75 L1530.57 960.89 L1536.62 961.03 L1542.68 961.17 L1548.73 961.31 L1554.78 961.46 L1560.84 961.6 L1566.89 961.74 L1572.95 961.89 L1579 962.04 L1585.06 962.2 L1591.11 962.36 L1597.17 962.52 L1603.22 962.68 L1609.27 962.85 L1615.33 963.03 L1621.38 963.21 L1627.44 963.39 L1633.49 963.59 L1639.55 963.79 L1645.6 963.99 L1651.66 964.21 L1657.71 964.43 L1663.76 964.66 L1669.82 964.89 L1675.87 965.13 L1681.93 965.38 L1687.98 965.63 L1694.04 965.89 L1700.09 966.16 L1706.15 966.43 L1712.2 966.7" fill="none" stroke="#0000ff" stroke-width="3.05" stroke-linejoin="round" stroke-linecap="butt" stroke-dasharray="3.05 5.04" clip-path="url(#c12)"/>
<path d="M1233.9 967.8 L1239.95 967.83 L1246.01 967.86 L1252.06 967.89 L1258.12 967.93 L1264.17 967.97 L1270.23 968.01 L1276.28 968.05 L1282.34 968.09 L1288.39 968.14 L1294.44 968.19 L1300.5 968.24 L1306.55 968.3 L1312.61 968.35 L1318.66 968.41 L1324.72 968.47 L1330.77 968.53 L1336.83 968.59 L1342.88 968.66 L1348.93 968.72 L1354.99 968.79 L1361.04 968.85 L1367.1 968.92 L1373.15 968.99 L1379.21 969.06 L1385.26 969.13 L1391.32 969.21 L1397.37 969.28 L1403.42 969.35 L1409.48 969.43 L1415.53 969.51 L1421.59 969.6 L1427.64 969.68 L1433.7 969.78 L1439.75 969.87 L1445.81 969.97 L1451.86 970.06 L1457.91 970.17 L1463.97 970.27 L1470.02 970.38 L1476.08 970.49 L1482.13 970.6 L1488.19 970.72 L1494.24 970.84 L1500.29 970.96 L1506.35 971.08 L1512.4 971.21 L1518.46 971.34 L1524.51 971.47 L1530.57 971.6 L1536.62 971.74 L1542.68 971.87 L1548.73 972.02 L1554.78 972.17 L1560.84 972.33 L1566.89 972.5 L1572.95 972.67 L1579 972.86 L1585.06 973.04 L1591.11 973.23 L1597.17 973.43 L1603.22 973.62 L1609.27 973.82 L1615.33 974.01 L1621.38 974.2 L1627.44 974.4 L1633.49 974.58 L1639.55 974.77 L1645.6 974.96 L1651.66 975.15 L1657.71 975.34 L1663.76 975.53 L1669.82 975.73 L1675.87 975.92 L1681.93 976.11 L1687.98 976.31 L1694.04 976.51 L1700.09 976.7 L1706.15 976.9 L1712.2 977.1" fill="none" stroke="#000000" stroke-width="3.05" stroke-linejoin="round" stroke-linecap="butt" stroke-dasharray="11.29 4.88" clip-path="url(#c12)"/>
<path d="M1378.15 996.1v7.2M1567.95 996.1v7.2M1233.9 595.85h-7.2M1233.9 646.65h-7.2M1233.9 697.45h-7.2M1233.9 748.25h-7.2M1233.9 799.05h-7.2M1233.9 849.85h-7.2M1233.9 900.65h-7.2M1233.9 951.45h-7.2" stroke="#000" stroke-width="1.63" fill="none"/>
<rect x="1233.9" y="572.8" width="478.3" height="423.3" fill="none" stroke="#000" stroke-width="1.63" stroke-linejoin="miter"/>
<text transform="translate(1378.15,1025.7) scale(1.0175,1.045)" text-anchor="middle" font-size="20">120</text>
<text transform="translate(1567.95,1025.7) scale(1.0175,1.045)" text-anchor="middle" font-size="20">150</text>
<text transform="translate(1219.6,603.7) scale(1.0175,1.045)" text-anchor="end" font-size="20">4.0</text>
<text transform="translate(1219.6,654.5) scale(1.0175,1.045)" text-anchor="end" font-size="20">3.8</text>
<text transform="translate(1219.6,705.3) scale(1.0175,1.045)" text-anchor="end" font-size="20">3.6</text>
<text transform="translate(1219.6,756.1) scale(1.0175,1.045)" text-anchor="end" font-size="20">3.4</text>
<text transform="translate(1219.6,806.9) scale(1.0175,1.045)" text-anchor="end" font-size="20">3.2</text>
<text transform="translate(1219.6,857.7) scale(1.0175,1.045)" text-anchor="end" font-size="20">3.0</text>
<text transform="translate(1219.6,908.5) scale(1.0175,1.045)" text-anchor="end" font-size="20">2.8</text>
<text transform="translate(1219.6,959.3) scale(1.0175,1.045)" text-anchor="end" font-size="20">2.6</text>
<text transform="translate(1471.75,1053.9) scale(1.0175,1.045)" text-anchor="middle" font-size="20">x [<tspan font-style="italic">μ</tspan>m]</text>
<text transform="translate(1473.05,560.4) scale(1.0175,1.045)" text-anchor="middle" font-size="20">Positive electrode potential [V]</text>
</g>
<g id="ax20">
<path d="M77.5 1329.55 L555.8 1329.55" fill="none" stroke="#ff0000" stroke-width="3.05" stroke-linejoin="round" stroke-linecap="square" clip-path="url(#c20)"/>
<path d="M77.5 1329.55 L548.71 1329.55" fill="none" stroke="#0000ff" stroke-width="3.05" stroke-linejoin="round" stroke-linecap="butt" stroke-dasharray="3.05 5.04" clip-path="url(#c20)"/>
<path d="M77.5 1329.55 L545.68 1329.55" fill="none" stroke="#000000" stroke-width="3.05" stroke-linejoin="round" stroke-linecap="butt" stroke-dasharray="11.29 4.88" clip-path="url(#c20)"/>
<path d="M545.98 1541.2 L545.98 1117.9" fill="none" stroke="#000" stroke-width="3.05" stroke-linejoin="round" stroke-linecap="butt" stroke-dasharray="11.29 4.88" clip-path="url(#c20)"/>
<path d="M77.5 1541.2v7.2M242.74 1541.2v7.2M407.98 1541.2v7.2M77.5 1117.9h-7.2M77.5 1170.81h-7.2M77.5 1223.73h-7.2M77.5 1276.64h-7.2M77.5 1329.55h-7.2M77.5 1382.46h-7.2M77.5 1435.38h-7.2M77.5 1488.29h-7.2M77.5 1541.2h-7.2" stroke="#000" stroke-width="1.63" fill="none"/>
<rect x="77.5" y="1117.9" width="478.3" height="423.3" fill="none" stroke="#000" stroke-width="1.63" stroke-linejoin="miter"/>
<text transform="translate(77.5,1570.8) scale(1.0175,1.045)" text-anchor="middle" font-size="20">0</text>
<text transform="translate(242.74,1570.8) scale(1.0175,1.045)" text-anchor="middle" font-size="20">600</text>
<text transform="translate(407.98,1570.8) scale(1.0175,1.045)" text-anchor="middle" font-size="20">1200</text>
<text transform="translate(63.2,1125.75) scale(1.0175,1.045)" text-anchor="end" font-size="20">11.00</text>
<text transform="translate(63.2,1178.66) scale(1.0175,1.045)" text-anchor="end" font-size="20">10.75</text>
<text transform="translate(63.2,1231.58) scale(1.0175,1.045)" text-anchor="end" font-size="20">10.50</text>
<text transform="translate(63.2,1284.49) scale(1.0175,1.045)" text-anchor="end" font-size="20">10.25</text>
<text transform="translate(63.2,1337.4) scale(1.0175,1.045)" text-anchor="end" font-size="20">10.00</text>
<text transform="translate(63.2,1390.31) scale(1.0175,1.045)" text-anchor="end" font-size="20">9.75</text>
<text transform="translate(63.2,1443.22) scale(1.0175,1.045)" text-anchor="end" font-size="20">9.50</text>
<text transform="translate(63.2,1496.14) scale(1.0175,1.045)" text-anchor="end" font-size="20">9.25</text>
<text transform="translate(63.2,1549.05) scale(1.0175,1.045)" text-anchor="end" font-size="20">9.00</text>
<text transform="translate(316.65,1599) scale(1.0175,1.045)" text-anchor="middle" font-size="20">Time [s]</text>
<text transform="translate(316.65,1105.5) scale(1.0175,1.045)" text-anchor="middle" font-size="20">Current [A]</text>
</g>
<g id="ax21">
<path d="M655.7 1522.1 L1134 1137.3" fill="none" stroke="#ff0000" stroke-width="3.05" stroke-linejoin="round" stroke-linecap="square" clip-path="url(#c21)"/>
<path d="M655.7 1522.1 L1126.91 1143" fill="none" stroke="#0000ff" stroke-width="3.05" stroke-linejoin="round" stroke-linecap="butt" stroke-dasharray="3.05 5.04" clip-path="url(#c21)"/>
<path d="M655.7 1522.1 L1123.88 1145.44" fill="none" stroke="#000000" stroke-width="3.05" stroke-linejoin="round" stroke-linecap="butt" stroke-dasharray="11.29 4.88" clip-path="url(#c21)"/>
<path d="M1124.18 1541.2 L1124.18 1117.9" fill="none" stroke="#000" stroke-width="3.05" stroke-linejoin="round" stroke-linecap="butt" stroke-dasharray="11.29 4.88" clip-path="url(#c21)"/>
<path d="M655.7 1541.2v7.2M820.94 1541.2v7.2M986.18 1541.2v7.2M655.7 1522.1h-7.2M655.7 1442.3h-7.2M655.7 1362.5h-7.2M655.7 1282.7h-7.2M655.7 1202.9h-7.2M655.7 1123.1h-7.2" stroke="#000" stroke-width="1.63" fill="none"/>
<rect x="655.7" y="1117.9" width="478.3" height="423.3" fill="none" stroke="#000" stroke-width="1.63" stroke-linejoin="miter"/>
<text transform="translate(655.7,1570.8) scale(1.0175,1.045)" text-anchor="middle" font-size="20">0</text>
<text transform="translate(820.94,1570.8) scale(1.0175,1.045)" text-anchor="middle" font-size="20">600</text>
<text transform="translate(986.18,1570.8) scale(1.0175,1.045)" text-anchor="middle" font-size="20">1200</text>
<text transform="translate(641.4,1529.95) scale(1.0175,1.045)" text-anchor="end" font-size="20">0</text>
<text transform="translate(641.4,1450.15) scale(1.0175,1.045)" text-anchor="end" font-size="20">1</text>
<text transform="translate(641.4,1370.35) scale(1.0175,1.045)" text-anchor="end" font-size="20">2</text>
<text transform="translate(641.4,1290.55) scale(1.0175,1.045)" text-anchor="end" font-size="20">3</text>
<text transform="translate(641.4,1210.75) scale(1.0175,1.045)" text-anchor="end" font-size="20">4</text>
<text transform="translate(641.4,1130.95) scale(1.0175,1.045)" text-anchor="end" font-size="20">5</text>
<text transform="translate(894.85,1599) scale(1.0175,1.045)" text-anchor="middle" font-size="20">Time [s]</text>
<text transform="translate(894.85,1105.5) scale(1.0175,1.045)" text-anchor="middle" font-size="20">Discharge capacity [A.h]</text>
</g>
<g id="ax22">
<path d="M1234.2 1135.7 L1238.9 1155.1 L1240.48 1155.61 L1242.07 1156.12 L1243.65 1156.65 L1245.23 1157.17 L1246.81 1157.69 L1248.4 1158.25 L1249.98 1158.88 L1251.56 1159.59 L1253.15 1160.41 L1254.73 1161.37 L1256.31 1162.56 L1257.9 1163.89 L1259.48 1165.23 L1261.06 1166.55 L1262.64 1167.9 L1264.23 1169.25 L1265.81 1170.57 L1267.39 1171.88 L1268.98 1173.18 L1270.56 1174.44 L1272.14 1175.67 L1273.72 1176.88 L1275.31 1178.05 L1276.89 1179.18 L1278.47 1180.27 L1280.06 1181.32 L1281.64 1182.34 L1283.22 1183.34 L1284.81 1184.33 L1286.39 1185.29 L1287.97 1186.23 L1289.55 1187.12 L1291.14 1187.99 L1292.72 1188.83 L1294.3 1189.65 L1295.89 1190.47 L1297.47 1191.28 L1299.05 1192.1 L1300.63 1192.92 L1302.22 1193.73 L1303.8 1194.52 L1305.38 1195.3 L1306.97 1196.07 L1308.55 1196.81 L1310.13 1197.54 L1311.72 1198.25 L1313.3 1198.97 L1314.88 1199.69 L1316.46 1200.42 L1318.05 1201.14 L1319.63 1201.86 L1321.21 1202.58 L1322.8 1203.3 L1324.38 1204.02 L1325.96 1204.73 L1327.54 1205.44 L1329.13 1206.15 L1330.71 1206.85 L1332.29 1207.56 L1333.88 1208.27 L1335.46 1209 L1337.04 1209.74 L1338.63 1210.49 L1340.21 1211.25 L1341.79 1212.01 L1343.37 1212.78 L1344.96 1213.56 L1346.54 1214.36 L1348.12 1215.17 L1349.71 1216.01 L1351.29 1216.87 L1352.87 1217.75 L1354.45 1218.67 L1356.04 1219.62 L1357.62 1220.6 L1359.2 1221.6 L1360.79 1222.64 L1362.37 1223.7 L1363.95 1224.78 L1365.54 1225.89 L1367.12 1227.06 L1368.7 1228.27 L1370.28 1229.52 L1371.87 1230.78 L1373.45 1232.05 L1375.03 1233.3 L1376.62 1234.54 L1378.2 1235.76 L1379.78 1237 L1381.36 1238.25 L1382.95 1239.49 L1384.53 1240.71 L1386.11 1241.89 L1387.7 1243.04 L1389.28 1244.12 L1390.86 1245.19 L1392.45 1246.23 L1394.03 1247.24 L1395.61 1248.22 L1397.19 1249.17 L1398.78 1250.07 L1400.36 1250.92 L1401.94 1251.73 L1403.53 1252.5 L1405.11 1253.24 L1406.69 1253.96 L1408.27 1254.65 L1409.86 1255.32 L1411.44 1255.97 L1413.02 1256.6 L1414.61 1257.21 L1416.19 1257.81 L1417.77 1258.39 L1419.36 1258.95 L1420.94 1259.49 L1422.52 1260.01 L1424.1 1260.53 L1425.69 1261.03 L1427.27 1261.53 L1428.85 1262.03 L1430.44 1262.52 L1432.02 1263.02 L1433.6 1263.51 L1435.18 1263.99 L1436.77 1264.47 L1438.35 1264.94 L1439.93 1265.41 L1441.52 1265.87 L1443.1 1266.34 L1444.68 1266.79 L1446.27 1267.25 L1447.85 1267.7 L1449.43 1268.14 L1451.01 1268.58 L1452.6 1269.02 L1454.18 1269.45 L1455.76 1269.88 L1457.35 1270.31 L1458.93 1270.74 L1460.51 1271.17 L1462.09 1271.6 L1463.68 1272.04 L1465.26 1272.47 L1466.84 1272.91 L1468.43 1273.34 L1470.01 1273.76 L1471.59 1274.19 L1473.18 1274.62 L1474.76 1275.04 L1476.34 1275.47 L1477.92 1275.89 L1479.51 1276.32 L1481.09 1276.75 L1482.67 1277.18 L1484.26 1277.61 L1485.84 1278.05 L1487.42 1278.49 L1489.01 1278.93 L1490.59 1279.38 L1492.17 1279.84 L1493.75 1280.3 L1495.34 1280.77 L1496.92 1281.24 L1498.5 1281.72 L1500.09 1282.19 L1501.67 1282.67 L1503.25 1283.15 L1504.83 1283.64 L1506.42 1284.13 L1508 1284.62 L1509.58 1285.12 L1511.17 1285.62 L1512.75 1286.14 L1514.33 1286.65 L1515.92 1287.18 L1517.5 1287.72 L1519.08 1288.26 L1520.66 1288.82 L1522.25 1289.38 L1523.83 1289.96 L1525.41 1290.54 L1527 1291.14 L1528.58 1291.76 L1530.16 1292.39 L1531.74 1293.04 L1533.33 1293.7 L1534.91 1294.37 L1536.49 1295.06 L1538.08 1295.76 L1539.66 1296.47 L1541.24 1297.19 L1542.83 1297.91 L1544.41 1298.65 L1545.99 1299.39 L1547.57 1300.14 L1549.16 1300.91 L1550.74 1301.69 L1552.32 1302.49 L1553.91 1303.31 L1555.49 1304.15 L1557.07 1304.99 L1558.65 1305.85 L1560.24 1306.71 L1561.82 1307.57 L1563.4 1308.44 L1564.99 1309.31 L1566.57 1310.18 L1568.15 1311.04 L1569.74 1311.89 L1571.32 1312.74 L1572.9 1313.59 L1574.48 1314.46 L1576.07 1315.32 L1577.65 1316.2 L1579.23 1317.07 L1580.82 1317.94 L1582.4 1318.81 L1583.98 1319.67 L1585.56 1320.53 L1587.15 1321.37 L1588.73 1322.2 L1590.31 1323.01 L1591.9 1323.81 L1593.48 1324.58 L1595.06 1325.34 L1596.65 1326.07 L1598.23 1326.79 L1599.81 1327.5 L1601.39 1328.2 L1602.98 1328.89 L1604.56 1329.58 L1606.14 1330.28 L1607.73 1330.99 L1609.31 1331.7 L1610.89 1332.4 L1612.47 1333.1 L1614.06 1333.79 L1615.64 1334.49 L1617.22 1335.19 L1618.81 1335.9 L1620.39 1336.62 L1621.97 1337.36 L1623.56 1338.12 L1625.14 1338.89 L1626.72 1339.66 L1628.3 1340.46 L1629.89 1341.3 L1631.47 1342.19 L1633.05 1343.14 L1634.64 1344.17 L1636.22 1345.26 L1637.8 1346.41 L1639.38 1347.62 L1640.97 1348.87 L1642.55 1350.17 L1644.13 1351.54 L1645.72 1353 L1647.3 1354.56 L1648.88 1356.26 L1650.47 1358.13 L1652.05 1360.15 L1653.63 1362.3 L1655.21 1364.55 L1656.8 1366.9 L1658.38 1369.44 L1659.96 1372.13 L1661.55 1374.92 L1663.13 1377.74 L1664.71 1380.52 L1666.29 1383.3 L1667.88 1386.12 L1669.46 1388.95 L1671.04 1391.79 L1672.63 1394.63 L1674.21 1397.44 L1675.79 1400.24 L1677.38 1403.07 L1678.96 1405.94 L1680.54 1408.89 L1682.12 1411.92 L1683.71 1415.02 L1685.29 1418.21 L1686.87 1421.51 L1688.46 1424.94 L1690.04 1428.49 L1691.62 1432.22 L1693.2 1436.19 L1694.79 1440.38 L1696.37 1444.89 L1697.95 1449.87 L1699.54 1455.56 L1701.12 1461.77 L1702.7 1468.26 L1704.29 1475.17 L1705.87 1482 L1707.45 1488.62 L1709.03 1496.71 L1710.62 1508.37 L1712.2 1523.4" fill="none" stroke="#ff0000" stroke-width="3.05" stroke-linejoin="round" stroke-linecap="square" clip-path="url(#c22)"/>
<path d="M1234.2 1161 L1238.9 1179.3 L1240.46 1181.72 L1242.02 1183.93 L1243.58 1185.85 L1245.14 1187.45 L1246.7 1188.79 L1248.26 1190.08 L1249.82 1191.52 L1251.38 1193.22 L1252.94 1195.08 L1254.5 1196.94 L1256.06 1198.71 L1257.62 1200.46 L1259.18 1202.18 L1260.74 1203.87 L1262.3 1205.54 L1263.86 1207.19 L1265.42 1208.81 L1266.98 1210.42 L1268.54 1212.02 L1270.1 1213.58 L1271.66 1215.07 L1273.22 1216.49 L1274.78 1217.88 L1276.34 1219.22 L1277.91 1220.5 L1279.47 1221.7 L1281.03 1222.81 L1282.59 1223.86 L1284.15 1224.87 L1285.71 1225.83 L1287.27 1226.76 L1288.83 1227.66 L1290.39 1228.54 L1291.95 1229.41 L1293.51 1230.26 L1295.07 1231.12 L1296.63 1231.96 L1298.19 1232.79 L1299.75 1233.6 L1301.31 1234.39 L1302.87 1235.17 L1304.43 1235.94 L1305.99 1236.71 L1307.55 1237.48 L1309.11 1238.26 L1310.67 1239.04 L1312.23 1239.84 L1313.79 1240.67 L1315.35 1241.51 L1316.91 1242.34 L1318.47 1243.17 L1320.03 1243.97 L1321.59 1244.73 L1323.15 1245.44 L1324.71 1246.1 L1326.27 1246.68 L1327.83 1247.19 L1329.39 1247.65 L1330.95 1248.08 L1332.51 1248.48 L1334.07 1248.89 L1335.63 1249.3 L1337.19 1249.75 L1338.75 1250.24 L1340.31 1250.79 L1341.87 1251.42 L1343.43 1252.14 L1344.99 1252.93 L1346.55 1253.77 L1348.11 1254.66 L1349.67 1255.59 L1351.23 1256.54 L1352.79 1257.5 L1354.35 1258.45 L1355.92 1259.39 L1357.48 1260.33 L1359.04 1261.28 L1360.6 1262.24 L1362.16 1263.22 L1363.72 1264.22 L1365.28 1265.24 L1366.84 1266.29 L1368.4 1267.36 L1369.96 1268.46 L1371.52 1269.61 L1373.08 1270.84 L1374.64 1272.13 L1376.2 1273.48 L1377.76 1274.85 L1379.32 1276.22 L1380.88 1277.58 L1382.44 1278.9 L1384 1280.15 L1385.56 1281.33 L1387.12 1282.43 L1388.68 1283.49 L1390.24 1284.52 L1391.8 1285.52 L1393.36 1286.5 L1394.92 1287.45 L1396.48 1288.38 L1398.04 1289.29 L1399.6 1290.17 L1401.16 1291.04 L1402.72 1291.9 L1404.28 1292.75 L1405.84 1293.59 L1407.4 1294.4 L1408.96 1295.2 L1410.52 1295.97 L1412.08 1296.72 L1413.64 1297.43 L1415.2 1298.11 L1416.76 1298.75 L1418.32 1299.36 L1419.88 1299.93 L1421.44 1300.48 L1423 1301.02 L1424.56 1301.54 L1426.12 1302.05 L1427.68 1302.57 L1429.24 1303.09 L1430.8 1303.63 L1432.36 1304.18 L1433.93 1304.74 L1435.49 1305.31 L1437.05 1305.88 L1438.61 1306.44 L1440.17 1307 L1441.73 1307.55 L1443.29 1308.08 L1444.85 1308.6 L1446.41 1309.1 L1447.97 1309.58 L1449.53 1310.05 L1451.09 1310.51 L1452.65 1310.96 L1454.21 1311.4 L1455.77 1311.84 L1457.33 1312.27 L1458.89 1312.69 L1460.45 1313.11 L1462.01 1313.52 L1463.57 1313.94 L1465.13 1314.35 L1466.69 1314.76 L1468.25 1315.17 L1469.81 1315.58 L1471.37 1316 L1472.93 1316.41 L1474.49 1316.83 L1476.05 1317.26 L1477.61 1317.69 L1479.17 1318.13 L1480.73 1318.58 L1482.29 1319.03 L1483.85 1319.48 L1485.41 1319.93 L1486.97 1320.38 L1488.53 1320.83 L1490.09 1321.28 L1491.65 1321.74 L1493.21 1322.2 L1494.77 1322.66 L1496.33 1323.12 L1497.89 1323.58 L1499.45 1324.05 L1501.01 1324.52 L1502.57 1325 L1504.13 1325.48 L1505.69 1325.97 L1507.25 1326.46 L1508.81 1326.95 L1510.37 1327.46 L1511.94 1327.96 L1513.5 1328.47 L1515.06 1328.97 L1516.62 1329.48 L1518.18 1330 L1519.74 1330.51 L1521.3 1331.03 L1522.86 1331.56 L1524.42 1332.09 L1525.98 1332.63 L1527.54 1333.17 L1529.1 1333.73 L1530.66 1334.28 L1532.22 1334.85 L1533.78 1335.43 L1535.34 1336.02 L1536.9 1336.62 L1538.46 1337.23 L1540.02 1337.85 L1541.58 1338.48 L1543.14 1339.13 L1544.7 1339.79 L1546.26 1340.47 L1547.82 1341.16 L1549.38 1341.87 L1550.94 1342.58 L1552.5 1343.31 L1554.06 1344.05 L1555.62 1344.79 L1557.18 1345.55 L1558.74 1346.32 L1560.3 1347.09 L1561.86 1347.87 L1563.42 1348.66 L1564.98 1349.45 L1566.54 1350.25 L1568.1 1351.06 L1569.66 1351.86 L1571.22 1352.68 L1572.78 1353.51 L1574.34 1354.37 L1575.9 1355.24 L1577.46 1356.13 L1579.02 1357.03 L1580.58 1357.95 L1582.14 1358.87 L1583.7 1359.8 L1585.26 1360.74 L1586.82 1361.67 L1588.38 1362.6 L1589.95 1363.53 L1591.51 1364.46 L1593.07 1365.37 L1594.63 1366.28 L1596.19 1367.17 L1597.75 1368.05 L1599.31 1368.9 L1600.87 1369.74 L1602.43 1370.56 L1603.99 1371.37 L1605.55 1372.16 L1607.11 1372.95 L1608.67 1373.72 L1610.23 1374.49 L1611.79 1375.25 L1613.35 1376.01 L1614.91 1376.77 L1616.47 1377.53 L1618.03 1378.29 L1619.59 1379.06 L1621.15 1379.83 L1622.71 1380.6 L1624.27 1381.38 L1625.83 1382.12 L1627.39 1382.83 L1628.95 1383.54 L1630.51 1384.26 L1632.07 1385 L1633.63 1385.78 L1635.19 1386.61 L1636.75 1387.52 L1638.31 1388.51 L1639.87 1389.62 L1641.43 1390.86 L1642.99 1392.23 L1644.55 1393.7 L1646.11 1395.28 L1647.67 1396.94 L1649.23 1398.68 L1650.79 1400.59 L1652.35 1402.69 L1653.91 1404.94 L1655.47 1407.3 L1657.03 1409.73 L1658.59 1412.22 L1660.15 1414.86 L1661.71 1417.63 L1663.27 1420.49 L1664.83 1423.37 L1666.39 1426.25 L1667.96 1429.18 L1669.52 1432.15 L1671.08 1435.15 L1672.64 1438.19 L1674.2 1441.26 L1675.76 1444.37 L1677.32 1447.51 L1678.88 1450.68 L1680.44 1453.87 L1682 1457.08 L1683.56 1460.33 L1685.12 1463.59 L1686.68 1466.85 L1688.24 1470.08 L1689.8 1473.18 L1691.36 1476.24 L1692.92 1479.51 L1694.48 1483.2 L1696.04 1487.31 L1697.6 1491.84 L1699.16 1496.84 L1700.72 1502.84 L1702.28 1509.3 L1703.84 1515.17 L1705.4 1520.6" fill="none" stroke="#0000ff" stroke-width="3.05" stroke-linejoin="round" stroke-linecap="butt" stroke-dasharray="3.05 5.04" clip-path="url(#c22)"/>
<path d="M1234.2 1151.9 L1236.6 1164.1 L1238 1172.2 L1239.5 1178.6 L1241.05 1179.99 L1242.59 1181.4 L1244.14 1182.83 L1245.69 1184.28 L1247.24 1185.75 L1248.78 1187.25 L1250.33 1188.77 L1251.88 1190.32 L1253.43 1191.88 L1254.97 1193.44 L1256.52 1195.01 L1258.07 1196.57 L1259.62 1198.13 L1261.16 1199.71 L1262.71 1201.31 L1264.26 1202.91 L1265.81 1204.5 L1267.35 1206.05 L1268.9 1207.55 L1270.45 1208.99 L1272 1210.36 L1273.54 1211.68 L1275.09 1212.97 L1276.64 1214.22 L1278.19 1215.42 L1279.73 1216.59 L1281.28 1217.71 L1282.83 1218.8 L1284.38 1219.86 L1285.92 1220.89 L1287.47 1221.9 L1289.02 1222.89 L1290.57 1223.86 L1292.11 1224.82 L1293.66 1225.76 L1295.21 1226.69 L1296.76 1227.6 L1298.3 1228.49 L1299.85 1229.35 L1301.4 1230.2 L1302.95 1231.04 L1304.49 1231.87 L1306.04 1232.7 L1307.59 1233.54 L1309.14 1234.39 L1310.68 1235.26 L1312.23 1236.13 L1313.78 1237.01 L1315.33 1237.89 L1316.87 1238.77 L1318.42 1239.66 L1319.97 1240.55 L1321.52 1241.45 L1323.06 1242.35 L1324.61 1243.27 L1326.16 1244.2 L1327.71 1245.13 L1329.25 1246.08 L1330.8 1247.04 L1332.35 1248.01 L1333.9 1248.98 L1335.44 1249.95 L1336.99 1250.93 L1338.54 1251.9 L1340.09 1252.88 L1341.63 1253.85 L1343.18 1254.83 L1344.73 1255.81 L1346.28 1256.8 L1347.82 1257.78 L1349.37 1258.77 L1350.92 1259.75 L1352.47 1260.73 L1354.01 1261.71 L1355.56 1262.68 L1357.11 1263.64 L1358.66 1264.6 L1360.2 1265.56 L1361.75 1266.52 L1363.3 1267.47 L1364.85 1268.42 L1366.39 1269.37 L1367.94 1270.32 L1369.49 1271.26 L1371.04 1272.21 L1372.58 1273.16 L1374.13 1274.12 L1375.68 1275.08 L1377.23 1276.04 L1378.77 1276.99 L1380.32 1277.94 L1381.87 1278.86 L1383.42 1279.76 L1384.96 1280.64 L1386.51 1281.49 L1388.06 1282.31 L1389.61 1283.11 L1391.15 1283.89 L1392.7 1284.66 L1394.25 1285.42 L1395.8 1286.17 L1397.34 1286.91 L1398.89 1287.65 L1400.44 1288.38 L1401.99 1289.11 L1403.53 1289.84 L1405.08 1290.57 L1406.63 1291.28 L1408.18 1291.99 L1409.72 1292.69 L1411.27 1293.39 L1412.82 1294.07 L1414.37 1294.74 L1415.91 1295.41 L1417.46 1296.05 L1419.01 1296.69 L1420.56 1297.32 L1422.1 1297.94 L1423.65 1298.55 L1425.2 1299.15 L1426.75 1299.75 L1428.29 1300.35 L1429.84 1300.95 L1431.39 1301.55 L1432.94 1302.15 L1434.48 1302.74 L1436.03 1303.33 L1437.58 1303.92 L1439.13 1304.51 L1440.67 1305.09 L1442.22 1305.67 L1443.77 1306.24 L1445.32 1306.81 L1446.86 1307.38 L1448.41 1307.93 L1449.96 1308.48 L1451.51 1309.01 L1453.05 1309.55 L1454.6 1310.08 L1456.15 1310.61 L1457.7 1311.15 L1459.24 1311.69 L1460.79 1312.24 L1462.34 1312.8 L1463.89 1313.38 L1465.43 1313.97 L1466.98 1314.57 L1468.53 1315.19 L1470.08 1315.82 L1471.62 1316.45 L1473.17 1317.1 L1474.72 1317.75 L1476.27 1318.41 L1477.81 1319.08 L1479.36 1319.75 L1480.91 1320.43 L1482.46 1321.11 L1484 1321.79 L1485.55 1322.48 L1487.1 1323.16 L1488.65 1323.85 L1490.19 1324.54 L1491.74 1325.22 L1493.29 1325.9 L1494.84 1326.58 L1496.38 1327.26 L1497.93 1327.94 L1499.48 1328.62 L1501.03 1329.3 L1502.57 1329.98 L1504.12 1330.67 L1505.67 1331.35 L1507.22 1332.04 L1508.76 1332.72 L1510.31 1333.41 L1511.86 1334.1 L1513.41 1334.8 L1514.95 1335.49 L1516.5 1336.19 L1518.05 1336.89 L1519.6 1337.59 L1521.14 1338.3 L1522.69 1339 L1524.24 1339.71 L1525.79 1340.42 L1527.33 1341.14 L1528.88 1341.86 L1530.43 1342.58 L1531.98 1343.31 L1533.52 1344.04 L1535.07 1344.78 L1536.62 1345.51 L1538.17 1346.25 L1539.71 1346.99 L1541.26 1347.73 L1542.81 1348.47 L1544.36 1349.21 L1545.9 1349.95 L1547.45 1350.7 L1549 1351.44 L1550.55 1352.18 L1552.09 1352.92 L1553.64 1353.66 L1555.19 1354.4 L1556.74 1355.13 L1558.28 1355.86 L1559.83 1356.59 L1561.38 1357.31 L1562.93 1358.02 L1564.47 1358.74 L1566.02 1359.46 L1567.57 1360.17 L1569.12 1360.89 L1570.66 1361.61 L1572.21 1362.33 L1573.76 1363.06 L1575.31 1363.8 L1576.85 1364.54 L1578.4 1365.29 L1579.95 1366.04 L1581.5 1366.81 L1583.04 1367.59 L1584.59 1368.38 L1586.14 1369.18 L1587.69 1369.99 L1589.23 1370.81 L1590.78 1371.64 L1592.33 1372.47 L1593.88 1373.32 L1595.42 1374.17 L1596.97 1375.04 L1598.52 1375.92 L1600.07 1376.81 L1601.61 1377.71 L1603.16 1378.62 L1604.71 1379.55 L1606.26 1380.5 L1607.8 1381.45 L1609.35 1382.42 L1610.9 1383.41 L1612.45 1384.42 L1613.99 1385.44 L1615.54 1386.47 L1617.09 1387.52 L1618.64 1388.59 L1620.18 1389.67 L1621.73 1390.77 L1623.28 1391.88 L1624.83 1393 L1626.37 1394.15 L1627.92 1395.31 L1629.47 1396.48 L1631.02 1397.67 L1632.56 1398.87 L1634.11 1400.08 L1635.66 1401.31 L1637.21 1402.57 L1638.75 1403.85 L1640.3 1405.17 L1641.85 1406.53 L1643.4 1407.93 L1644.94 1409.38 L1646.49 1410.88 L1648.04 1412.42 L1649.59 1414.01 L1651.13 1415.66 L1652.68 1417.39 L1654.23 1419.2 L1655.78 1421.1 L1657.32 1423.12 L1658.87 1425.28 L1660.42 1427.7 L1661.97 1430.32 L1663.51 1433.07 L1665.06 1435.9 L1666.61 1438.73 L1668.16 1441.51 L1669.7 1444.18 L1671.25 1446.77 L1672.8 1449.32 L1674.35 1451.88 L1675.89 1454.5 L1677.44 1457.19 L1678.99 1459.97 L1680.54 1462.79 L1682.08 1465.7 L1683.63 1468.72 L1685.18 1471.89 L1686.73 1475.21 L1688.27 1478.7 L1689.82 1482.34 L1691.37 1486.12 L1692.92 1490 L1694.46 1494.07 L1696.01 1498.42 L1697.56 1503.1 L1699.11 1507.96 L1700.65 1514.04 L1702.2 1523.9" fill="none" stroke="#000000" stroke-width="3.05" stroke-linejoin="round" stroke-linecap="butt" stroke-dasharray="11.29 4.88" clip-path="url(#c22)"/>
<path d="M1702.38 1541.2 L1702.38 1117.9" fill="none" stroke="#000" stroke-width="3.05" stroke-linejoin="round" stroke-linecap="butt" stroke-dasharray="11.29 4.88" clip-path="url(#c22)"/>
<path d="M1233.9 1541.2v7.2M1399.14 1541.2v7.2M1564.38 1541.2v7.2M1233.9 1141.1h-7.2M1233.9 1191.9h-7.2M1233.9 1242.7h-7.2M1233.9 1293.5h-7.2M1233.9 1344.3h-7.2M1233.9 1395.1h-7.2M1233.9 1445.9h-7.2M1233.9 1496.7h-7.2" stroke="#000" stroke-width="1.63" fill="none"/>
<rect x="1233.9" y="1117.9" width="478.3" height="423.3" fill="none" stroke="#000" stroke-width="1.63" stroke-linejoin="miter"/>
<text transform="translate(1233.9,1570.8) scale(1.0175,1.045)" text-anchor="middle" font-size="20">0</text>
<text transform="translate(1399.14,1570.8) scale(1.0175,1.045)" text-anchor="middle" font-size="20">600</text>
<text transform="translate(1564.38,1570.8) scale(1.0175,1.045)" text-anchor="middle" font-size="20">1200</text>
<text transform="translate(1219.6,1148.95) scale(1.0175,1.045)" text-anchor="end" font-size="20">4.0</text>
<text transform="translate(1219.6,1199.75) scale(1.0175,1.045)" text-anchor="end" font-size="20">3.8</text>
<text transform="translate(1219.6,1250.55) scale(1.0175,1.045)" text-anchor="end" font-size="20">3.6</text>
<text transform="translate(1219.6,1301.35) scale(1.0175,1.045)" text-anchor="end" font-size="20">3.4</text>
<text transform="translate(1219.6,1352.15) scale(1.0175,1.045)" text-anchor="end" font-size="20">3.2</text>
<text transform="translate(1219.6,1402.95) scale(1.0175,1.045)" text-anchor="end" font-size="20">3.0</text>
<text transform="translate(1219.6,1453.75) scale(1.0175,1.045)" text-anchor="end" font-size="20">2.8</text>
<text transform="translate(1219.6,1504.55) scale(1.0175,1.045)" text-anchor="end" font-size="20">2.6</text>
<text transform="translate(1473.05,1599) scale(1.0175,1.045)" text-anchor="middle" font-size="20">Time [s]</text>
<text transform="translate(1473.05,1105.5) scale(1.0175,1.045)" text-anchor="middle" font-size="20">Terminal voltage [V]</text>
</g>
<g id="legend">
<rect x="1595.9" y="1628.2" width="127.8" height="95.5" rx="4" ry="4" fill="#fff" fill-opacity="0.8" stroke="#cccccc" stroke-width="2"/>
<path d="M1603.5 1644.9 L1644.5 1644.9" fill="none" stroke="#ff0000" stroke-width="3.05" stroke-linejoin="round" stroke-linecap="square"/>
<path d="M1603 1674.7 L1645 1674.7" fill="none" stroke="#0000ff" stroke-width="3.05" stroke-linejoin="round" stroke-linecap="butt" stroke-dasharray="3.05 5.04"/>
<path d="M1603 1704.4 L1645 1704.4" fill="none" stroke="#000000" stroke-width="3.05" stroke-linejoin="round" stroke-linecap="butt" stroke-dasharray="11.29 4.88"/>
<text transform="translate(1660.6,1652) scale(1.0175,1.045)" text-anchor="start" font-size="20">SPM</text>
<text transform="translate(1660.6,1681.8) scale(1.0175,1.045)" text-anchor="start" font-size="20">SPMe</text>
<text transform="translate(1660.6,1711.5) scale(1.0175,1.045)" text-anchor="start" font-size="20">DFN</text>
</g>
</svg>
</body>
</html>
